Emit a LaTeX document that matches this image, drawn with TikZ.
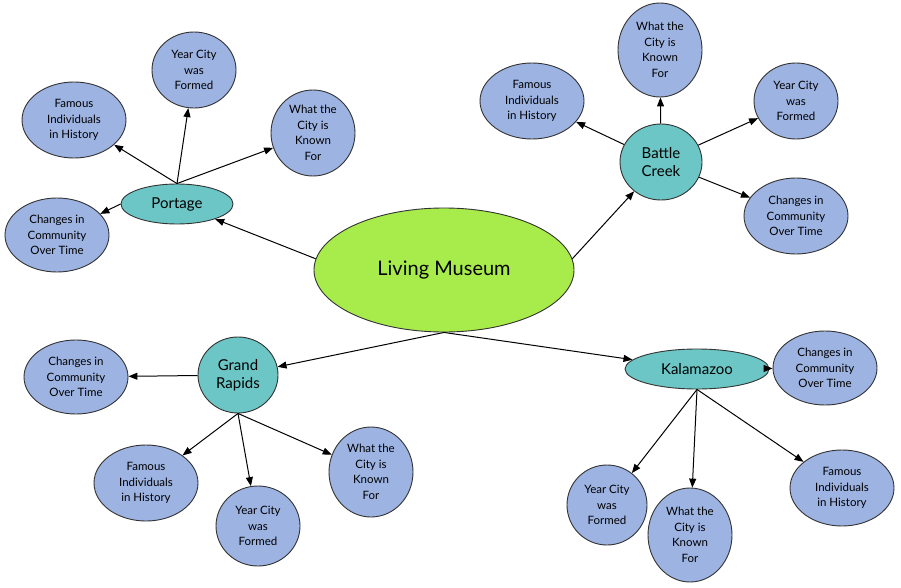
\documentclass[tikz,border=0pt]{standalone}
\usepackage{fontspec}
\setmainfont{Lato}
\usetikzlibrary{shapes.geometric,arrows.meta}
\definecolor{lmg}{HTML}{A8EC4C}
\definecolor{city}{HTML}{6CC6C6}
\definecolor{leaf}{HTML}{9DB3E2}
\begin{document}
\begin{tikzpicture}[x=1pt,y=-1pt,
 ell/.style={ellipse,draw=black!80,line width=0.9pt,inner sep=0pt,align=center},
 leafn/.style={ell,fill=leaf,font=\fontsize{11.5}{15.5}\selectfont},
 cityn/.style={ell,fill=city,font=\fontsize{15}{18}\selectfont},
 arr/.style={-{Triangle[length=9pt,width=7pt]},line width=1pt}]
\useasboundingbox[fill=white] (0,0) rectangle (901,588);
\node[ell,fill=lmg,minimum width=260,minimum height=124,font=\fontsize{20}{24}\selectfont] (lm) at (444,270) {Living Museum};
\node[cityn,minimum width=112,minimum height=40] (po) at (177,204) {Portage};
\node[cityn,minimum width=82,minimum height=76] (bc) at (661,162) {Battle\\Creek};
\node[cityn,minimum width=80,minimum height=76] (gr) at (238,375) {Grand\\Rapids};
\node[cityn,minimum width=144,minimum height=40] (ka) at (697,369) {Kalamazoo};
% Portage leaves
\node[leafn,minimum width=104,minimum height=76] (p1) at (74,120) {Famous\\Individuals\\in History};
\node[leafn,minimum width=84,minimum height=76] (p2) at (194,70) {Year City\\was\\Formed};
\node[leafn,minimum width=84,minimum height=86] (p3) at (313,133) {What the\\City is\\Known\\For};
\node[leafn,minimum width=104,minimum height=74] (p4) at (57,235) {Changes in\\Community\\Over Time};
% Battle Creek leaves
\node[leafn,minimum width=104,minimum height=76] (b1) at (532,101) {Famous\\Individuals\\in History};
\node[leafn,minimum width=84,minimum height=94] (b2) at (660,50) {What the\\City is\\Known\\For};
\node[leafn,minimum width=84,minimum height=76] (b3) at (796,101) {Year City\\was\\Formed};
\node[leafn,minimum width=104,minimum height=76] (b4) at (796,216) {Changes in\\Community\\Over Time};
% Grand Rapids leaves
\node[leafn,minimum width=104,minimum height=74] (g1) at (76,377) {Changes in\\Community\\Over Time};
\node[leafn,minimum width=104,minimum height=76] (g2) at (146,483) {Famous\\Individuals\\in History};
\node[leafn,minimum width=84,minimum height=80] (g3) at (258,526) {Year City\\was\\Formed};
\node[leafn,minimum width=84,minimum height=90] (g4) at (371,472) {What the\\City is\\Known\\For};
% Kalamazoo leaves
\node[leafn,minimum width=104,minimum height=74] (k1) at (825,368) {Changes in\\Community\\Over Time};
\node[leafn,minimum width=80,minimum height=80] (k2) at (607,505) {Year City\\was\\Formed};
\node[leafn,minimum width=84,minimum height=94] (k3) at (690,535) {What the\\City is\\Known\\For};
\node[leafn,minimum width=104,minimum height=76] (k4) at (842,488) {Famous\\Individuals\\in History};
% arrows
\draw[arr] (lm.175) -- (po);
\draw[arr] (lm.5) -- (bc);
\draw[arr] (lm.south) -- (gr);
\draw[arr] (lm.south) -- (ka);
\draw[arr] (po.north) -- (p1);
\draw[arr] (po.north) -- (p2);
\draw[arr] (po.north) -- (p3);
\draw[arr] (po.west) -- (p4);
\draw[arr] (bc) -- (b1);
\draw[arr] (bc) -- (b2);
\draw[arr] (bc) -- (b3);
\draw[arr] (bc) -- (b4);
\draw[arr] (gr) -- (g1);
\draw[arr] (gr.south) -- (g2);
\draw[arr] (gr.south) -- (g3);
\draw[arr] (gr.south) -- (g4);
\draw[arr] (ka) -- (k1);
\draw[arr] (ka.south) -- (k2);
\draw[arr] (ka.south) -- (k3);
\draw[arr] (ka.south) -- (k4);
\end{tikzpicture}
\end{document}
